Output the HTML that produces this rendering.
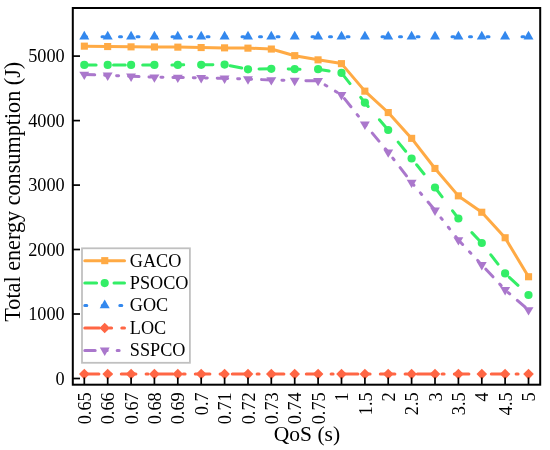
<!DOCTYPE html>
<html><head><meta charset="utf-8"><title>Total energy consumption vs QoS</title>
<style>html,body{margin:0;padding:0;background:#fff;overflow:hidden}svg{display:block}</style></head>
<body>
<svg width="550" height="450" viewBox="0 0 550 450" font-family="'Liberation Serif', 'Times New Roman', serif">
<rect width="550" height="450" fill="#fff"/>
<path d="M84.3 46.2 L107.7 46.5 L131.1 46.8 L154.4 47.0 L177.8 47.1 L201.2 47.5 L224.6 47.9 L248.0 48.1 L271.3 49.0 L294.7 55.7 L318.1 59.8 L341.5 63.6 L364.9 91.1 L388.2 112.5 L411.6 138.4 L435.0 168.5 L458.4 195.9 L481.8 212.2 L505.1 237.8 L528.5 276.8" fill="none" stroke="#FFAA44" stroke-width="3.0" stroke-linejoin="round"/>
<rect x="80.8" y="42.6" width="7.1" height="7.1" fill="#FFAA44"/>
<rect x="104.1" y="43.0" width="7.1" height="7.1" fill="#FFAA44"/>
<rect x="127.5" y="43.3" width="7.1" height="7.1" fill="#FFAA44"/>
<rect x="150.9" y="43.4" width="7.1" height="7.1" fill="#FFAA44"/>
<rect x="174.3" y="43.6" width="7.1" height="7.1" fill="#FFAA44"/>
<rect x="197.6" y="44.0" width="7.1" height="7.1" fill="#FFAA44"/>
<rect x="221.0" y="44.3" width="7.1" height="7.1" fill="#FFAA44"/>
<rect x="244.4" y="44.6" width="7.1" height="7.1" fill="#FFAA44"/>
<rect x="267.8" y="45.5" width="7.1" height="7.1" fill="#FFAA44"/>
<rect x="291.2" y="52.1" width="7.1" height="7.1" fill="#FFAA44"/>
<rect x="314.5" y="56.3" width="7.1" height="7.1" fill="#FFAA44"/>
<rect x="337.9" y="60.1" width="7.1" height="7.1" fill="#FFAA44"/>
<rect x="361.3" y="87.6" width="7.1" height="7.1" fill="#FFAA44"/>
<rect x="384.7" y="109.0" width="7.1" height="7.1" fill="#FFAA44"/>
<rect x="408.1" y="134.8" width="7.1" height="7.1" fill="#FFAA44"/>
<rect x="431.4" y="164.9" width="7.1" height="7.1" fill="#FFAA44"/>
<rect x="454.8" y="192.3" width="7.1" height="7.1" fill="#FFAA44"/>
<rect x="478.2" y="208.7" width="7.1" height="7.1" fill="#FFAA44"/>
<rect x="501.6" y="234.2" width="7.1" height="7.1" fill="#FFAA44"/>
<rect x="525.0" y="273.2" width="7.1" height="7.1" fill="#FFAA44"/>
<path d="M84.3 64.9 L107.7 64.9 L131.1 64.9 L154.4 64.9 L177.8 64.9 L201.2 64.8 L224.6 64.6 L248.0 69.3 L271.3 68.8 L294.7 69.2 L318.1 69.2 L341.5 72.9" fill="none" stroke="#33EE66" stroke-width="3.0" stroke-linejoin="round" stroke-dasharray="11.8 17.4" stroke-linecap="round"/>
<path d="M341.5 72.9 L364.9 102.7 L388.2 130.0 L411.6 158.5 L435.0 187.5 L458.4 218.5 L481.8 243.0 L505.1 273.4 L528.5 295.0" fill="none" stroke="#33EE66" stroke-width="3.0" stroke-linejoin="round" stroke-dasharray="11.8 17.4" stroke-dashoffset="-1.9" stroke-linecap="round"/>
<circle cx="84.3" cy="64.9" r="4.1" fill="#33EE66"/>
<circle cx="107.7" cy="64.9" r="4.1" fill="#33EE66"/>
<circle cx="131.1" cy="64.9" r="4.1" fill="#33EE66"/>
<circle cx="154.4" cy="64.9" r="4.1" fill="#33EE66"/>
<circle cx="177.8" cy="64.9" r="4.1" fill="#33EE66"/>
<circle cx="201.2" cy="64.8" r="4.1" fill="#33EE66"/>
<circle cx="224.6" cy="64.6" r="4.1" fill="#33EE66"/>
<circle cx="248.0" cy="69.3" r="4.1" fill="#33EE66"/>
<circle cx="271.3" cy="68.8" r="4.1" fill="#33EE66"/>
<circle cx="294.7" cy="69.2" r="4.1" fill="#33EE66"/>
<circle cx="318.1" cy="69.2" r="4.1" fill="#33EE66"/>
<circle cx="341.5" cy="72.9" r="4.1" fill="#33EE66"/>
<circle cx="364.9" cy="102.7" r="4.1" fill="#33EE66"/>
<circle cx="388.2" cy="130.0" r="4.1" fill="#33EE66"/>
<circle cx="411.6" cy="158.5" r="4.1" fill="#33EE66"/>
<circle cx="435.0" cy="187.5" r="4.1" fill="#33EE66"/>
<circle cx="458.4" cy="218.5" r="4.1" fill="#33EE66"/>
<circle cx="481.8" cy="243.0" r="4.1" fill="#33EE66"/>
<circle cx="505.1" cy="273.4" r="4.1" fill="#33EE66"/>
<circle cx="528.5" cy="295.0" r="4.1" fill="#33EE66"/>
<path d="M84.5 36.8 L107.7 36.8 L131.1 36.8 L154.4 36.8 L177.8 36.8 L201.2 36.8 L224.6 36.8 L248.0 36.8 L271.3 36.8 L294.7 36.8 L318.1 36.8 L341.5 36.8 L364.9 36.8 L388.2 36.8 L411.6 36.8 L435.0 36.8 L458.4 36.8 L481.8 36.8 L505.1 36.8 L528.5 36.8" fill="none" stroke="#3388EE" stroke-width="3.0" stroke-linejoin="round" stroke-dasharray="2 15.5" stroke-linecap="round"/>
<path d="M84.3 30.8 L89.3 39.6 L79.3 39.6 Z" fill="#3388EE"/>
<path d="M107.7 30.8 L112.7 39.6 L102.7 39.6 Z" fill="#3388EE"/>
<path d="M131.1 30.8 L136.1 39.6 L126.1 39.6 Z" fill="#3388EE"/>
<path d="M154.4 30.8 L159.4 39.6 L149.4 39.6 Z" fill="#3388EE"/>
<path d="M177.8 30.8 L182.8 39.6 L172.8 39.6 Z" fill="#3388EE"/>
<path d="M201.2 30.8 L206.2 39.6 L196.2 39.6 Z" fill="#3388EE"/>
<path d="M224.6 30.8 L229.6 39.6 L219.6 39.6 Z" fill="#3388EE"/>
<path d="M248.0 30.8 L253.0 39.6 L243.0 39.6 Z" fill="#3388EE"/>
<path d="M271.3 30.8 L276.3 39.6 L266.3 39.6 Z" fill="#3388EE"/>
<path d="M294.7 30.8 L299.7 39.6 L289.7 39.6 Z" fill="#3388EE"/>
<path d="M318.1 30.8 L323.1 39.6 L313.1 39.6 Z" fill="#3388EE"/>
<path d="M341.5 30.8 L346.5 39.6 L336.5 39.6 Z" fill="#3388EE"/>
<path d="M364.9 30.8 L369.9 39.6 L359.9 39.6 Z" fill="#3388EE"/>
<path d="M388.2 30.8 L393.2 39.6 L383.2 39.6 Z" fill="#3388EE"/>
<path d="M411.6 30.8 L416.6 39.6 L406.6 39.6 Z" fill="#3388EE"/>
<path d="M435.0 30.8 L440.0 39.6 L430.0 39.6 Z" fill="#3388EE"/>
<path d="M458.4 30.8 L463.4 39.6 L453.4 39.6 Z" fill="#3388EE"/>
<path d="M481.8 30.8 L486.8 39.6 L476.8 39.6 Z" fill="#3388EE"/>
<path d="M505.1 30.8 L510.1 39.6 L500.1 39.6 Z" fill="#3388EE"/>
<path d="M528.5 30.8 L533.5 39.6 L523.5 39.6 Z" fill="#3388EE"/>
<path d="M84.3 374.1 L107.7 374.1 L131.1 374.1 L154.4 374.1 L177.8 374.1 L201.2 374.1 L224.6 374.1 L248.0 374.1 L271.3 374.1 L294.7 374.1 L318.1 374.1 L341.5 374.1 L364.9 374.1 L388.2 374.1 L411.6 374.1 L435.0 374.1 L458.4 374.1 L481.8 374.1 L505.1 374.1 L528.5 374.1" fill="none" stroke="#FF6644" stroke-width="3.0" stroke-linejoin="round" stroke-dasharray="14.6 10.2 2 10.2" stroke-linecap="round"/>
<path d="M84.3 368.8 L89.6 374.1 L84.3 379.4 L79.0 374.1 Z" fill="#FF6644"/>
<path d="M107.7 368.8 L113.0 374.1 L107.7 379.4 L102.4 374.1 Z" fill="#FF6644"/>
<path d="M131.1 368.8 L136.4 374.1 L131.1 379.4 L125.8 374.1 Z" fill="#FF6644"/>
<path d="M154.4 368.8 L159.7 374.1 L154.4 379.4 L149.1 374.1 Z" fill="#FF6644"/>
<path d="M177.8 368.8 L183.1 374.1 L177.8 379.4 L172.5 374.1 Z" fill="#FF6644"/>
<path d="M201.2 368.8 L206.5 374.1 L201.2 379.4 L195.9 374.1 Z" fill="#FF6644"/>
<path d="M224.6 368.8 L229.9 374.1 L224.6 379.4 L219.3 374.1 Z" fill="#FF6644"/>
<path d="M248.0 368.8 L253.3 374.1 L248.0 379.4 L242.7 374.1 Z" fill="#FF6644"/>
<path d="M271.3 368.8 L276.6 374.1 L271.3 379.4 L266.0 374.1 Z" fill="#FF6644"/>
<path d="M294.7 368.8 L300.0 374.1 L294.7 379.4 L289.4 374.1 Z" fill="#FF6644"/>
<path d="M318.1 368.8 L323.4 374.1 L318.1 379.4 L312.8 374.1 Z" fill="#FF6644"/>
<path d="M341.5 368.8 L346.8 374.1 L341.5 379.4 L336.2 374.1 Z" fill="#FF6644"/>
<path d="M364.9 368.8 L370.2 374.1 L364.9 379.4 L359.6 374.1 Z" fill="#FF6644"/>
<path d="M388.2 368.8 L393.5 374.1 L388.2 379.4 L382.9 374.1 Z" fill="#FF6644"/>
<path d="M411.6 368.8 L416.9 374.1 L411.6 379.4 L406.3 374.1 Z" fill="#FF6644"/>
<path d="M435.0 368.8 L440.3 374.1 L435.0 379.4 L429.7 374.1 Z" fill="#FF6644"/>
<path d="M458.4 368.8 L463.7 374.1 L458.4 379.4 L453.1 374.1 Z" fill="#FF6644"/>
<path d="M481.8 368.8 L487.1 374.1 L481.8 379.4 L476.5 374.1 Z" fill="#FF6644"/>
<path d="M505.1 368.8 L510.4 374.1 L505.1 379.4 L499.8 374.1 Z" fill="#FF6644"/>
<path d="M528.5 368.8 L533.8 374.1 L528.5 379.4 L523.2 374.1 Z" fill="#FF6644"/>
<path d="M84.3 74.5 L107.7 75.3 L131.1 76.3 L154.4 77.2 L177.8 77.5 L201.2 77.8 L224.6 78.3 L248.0 79.1 L271.3 80.0 L294.7 80.6 L318.1 80.7 L341.5 94.9 L364.9 124.3 L388.2 152.2 L411.6 182.5 L435.0 210.3 L458.4 240.0 L481.8 264.8 L505.1 289.9 L528.5 310.0" fill="none" stroke="#AA77CC" stroke-width="3.0" stroke-linejoin="round" stroke-dasharray="10.4 9.98 2 9.98 2 9.98" stroke-linecap="round"/>
<path d="M84.3 80.1 L89.2 71.7 L79.3 71.7 Z" fill="#AA77CC"/>
<path d="M107.7 80.9 L112.6 72.5 L102.7 72.5 Z" fill="#AA77CC"/>
<path d="M131.1 81.9 L136.0 73.5 L126.1 73.5 Z" fill="#AA77CC"/>
<path d="M154.4 82.8 L159.4 74.4 L149.5 74.4 Z" fill="#AA77CC"/>
<path d="M177.8 83.1 L182.8 74.7 L172.9 74.7 Z" fill="#AA77CC"/>
<path d="M201.2 83.4 L206.1 75.0 L196.2 75.0 Z" fill="#AA77CC"/>
<path d="M224.6 83.9 L229.5 75.5 L219.6 75.5 Z" fill="#AA77CC"/>
<path d="M248.0 84.7 L252.9 76.3 L243.0 76.3 Z" fill="#AA77CC"/>
<path d="M271.3 85.6 L276.3 77.2 L266.4 77.2 Z" fill="#AA77CC"/>
<path d="M294.7 86.2 L299.7 77.8 L289.8 77.8 Z" fill="#AA77CC"/>
<path d="M318.1 86.3 L323.0 77.9 L313.1 77.9 Z" fill="#AA77CC"/>
<path d="M341.5 100.5 L346.4 92.1 L336.5 92.1 Z" fill="#AA77CC"/>
<path d="M364.9 129.9 L369.8 121.5 L359.9 121.5 Z" fill="#AA77CC"/>
<path d="M388.2 157.8 L393.2 149.4 L383.3 149.4 Z" fill="#AA77CC"/>
<path d="M411.6 188.1 L416.6 179.7 L406.7 179.7 Z" fill="#AA77CC"/>
<path d="M435.0 215.9 L439.9 207.5 L430.1 207.5 Z" fill="#AA77CC"/>
<path d="M458.4 245.6 L463.3 237.2 L453.4 237.2 Z" fill="#AA77CC"/>
<path d="M481.8 270.4 L486.7 262.0 L476.8 262.0 Z" fill="#AA77CC"/>
<path d="M505.1 295.5 L510.1 287.1 L500.2 287.1 Z" fill="#AA77CC"/>
<path d="M528.5 315.6 L533.5 307.2 L523.6 307.2 Z" fill="#AA77CC"/>
<rect x="72.8" y="8.0" width="467.4" height="376.7" fill="none" stroke="#000" stroke-width="2"/>
<line x1="84.3" y1="384.7" x2="84.3" y2="377.5" stroke="#000" stroke-width="1.7"/>
<text transform="translate(90.9 392.3) rotate(-90)" text-anchor="end" font-size="18.3" fill="#000">0.65</text>
<line x1="107.7" y1="384.7" x2="107.7" y2="377.5" stroke="#000" stroke-width="1.7"/>
<text transform="translate(114.3 392.3) rotate(-90)" text-anchor="end" font-size="18.3" fill="#000">0.66</text>
<line x1="131.1" y1="384.7" x2="131.1" y2="377.5" stroke="#000" stroke-width="1.7"/>
<text transform="translate(137.7 392.3) rotate(-90)" text-anchor="end" font-size="18.3" fill="#000">0.67</text>
<line x1="154.4" y1="384.7" x2="154.4" y2="377.5" stroke="#000" stroke-width="1.7"/>
<text transform="translate(161.0 392.3) rotate(-90)" text-anchor="end" font-size="18.3" fill="#000">0.68</text>
<line x1="177.8" y1="384.7" x2="177.8" y2="377.5" stroke="#000" stroke-width="1.7"/>
<text transform="translate(184.4 392.3) rotate(-90)" text-anchor="end" font-size="18.3" fill="#000">0.69</text>
<line x1="201.2" y1="384.7" x2="201.2" y2="377.5" stroke="#000" stroke-width="1.7"/>
<text transform="translate(207.8 392.3) rotate(-90)" text-anchor="end" font-size="18.3" fill="#000">0.7</text>
<line x1="224.6" y1="384.7" x2="224.6" y2="377.5" stroke="#000" stroke-width="1.7"/>
<text transform="translate(231.2 392.3) rotate(-90)" text-anchor="end" font-size="18.3" fill="#000">0.71</text>
<line x1="248.0" y1="384.7" x2="248.0" y2="377.5" stroke="#000" stroke-width="1.7"/>
<text transform="translate(254.6 392.3) rotate(-90)" text-anchor="end" font-size="18.3" fill="#000">0.72</text>
<line x1="271.3" y1="384.7" x2="271.3" y2="377.5" stroke="#000" stroke-width="1.7"/>
<text transform="translate(277.9 392.3) rotate(-90)" text-anchor="end" font-size="18.3" fill="#000">0.73</text>
<line x1="294.7" y1="384.7" x2="294.7" y2="377.5" stroke="#000" stroke-width="1.7"/>
<text transform="translate(301.3 392.3) rotate(-90)" text-anchor="end" font-size="18.3" fill="#000">0.74</text>
<line x1="318.1" y1="384.7" x2="318.1" y2="377.5" stroke="#000" stroke-width="1.7"/>
<text transform="translate(324.7 392.3) rotate(-90)" text-anchor="end" font-size="18.3" fill="#000">0.75</text>
<line x1="341.5" y1="384.7" x2="341.5" y2="377.5" stroke="#000" stroke-width="1.7"/>
<text transform="translate(348.1 392.3) rotate(-90)" text-anchor="end" font-size="18.3" fill="#000">1</text>
<line x1="364.9" y1="384.7" x2="364.9" y2="377.5" stroke="#000" stroke-width="1.7"/>
<text transform="translate(371.5 392.3) rotate(-90)" text-anchor="end" font-size="18.3" fill="#000">1.5</text>
<line x1="388.2" y1="384.7" x2="388.2" y2="377.5" stroke="#000" stroke-width="1.7"/>
<text transform="translate(394.8 392.3) rotate(-90)" text-anchor="end" font-size="18.3" fill="#000">2</text>
<line x1="411.6" y1="384.7" x2="411.6" y2="377.5" stroke="#000" stroke-width="1.7"/>
<text transform="translate(418.2 392.3) rotate(-90)" text-anchor="end" font-size="18.3" fill="#000">2.5</text>
<line x1="435.0" y1="384.7" x2="435.0" y2="377.5" stroke="#000" stroke-width="1.7"/>
<text transform="translate(441.6 392.3) rotate(-90)" text-anchor="end" font-size="18.3" fill="#000">3</text>
<line x1="458.4" y1="384.7" x2="458.4" y2="377.5" stroke="#000" stroke-width="1.7"/>
<text transform="translate(465.0 392.3) rotate(-90)" text-anchor="end" font-size="18.3" fill="#000">3.5</text>
<line x1="481.8" y1="384.7" x2="481.8" y2="377.5" stroke="#000" stroke-width="1.7"/>
<text transform="translate(488.4 392.3) rotate(-90)" text-anchor="end" font-size="18.3" fill="#000">4</text>
<line x1="505.1" y1="384.7" x2="505.1" y2="377.5" stroke="#000" stroke-width="1.7"/>
<text transform="translate(511.7 392.3) rotate(-90)" text-anchor="end" font-size="18.3" fill="#000">4.5</text>
<line x1="528.5" y1="384.7" x2="528.5" y2="377.5" stroke="#000" stroke-width="1.7"/>
<text transform="translate(535.1 392.3) rotate(-90)" text-anchor="end" font-size="18.3" fill="#000">5</text>
<line x1="72.8" y1="378.5" x2="80.0" y2="378.5" stroke="#000" stroke-width="1.7"/>
<text x="64.7" y="384.7" text-anchor="end" font-size="18.3" fill="#000">0</text>
<line x1="72.8" y1="314.0" x2="80.0" y2="314.0" stroke="#000" stroke-width="1.7"/>
<text x="64.7" y="320.2" text-anchor="end" font-size="18.3" fill="#000">1000</text>
<line x1="72.8" y1="249.5" x2="80.0" y2="249.5" stroke="#000" stroke-width="1.7"/>
<text x="64.7" y="255.7" text-anchor="end" font-size="18.3" fill="#000">2000</text>
<line x1="72.8" y1="185.1" x2="80.0" y2="185.1" stroke="#000" stroke-width="1.7"/>
<text x="64.7" y="191.3" text-anchor="end" font-size="18.3" fill="#000">3000</text>
<line x1="72.8" y1="120.6" x2="80.0" y2="120.6" stroke="#000" stroke-width="1.7"/>
<text x="64.7" y="126.8" text-anchor="end" font-size="18.3" fill="#000">4000</text>
<line x1="72.8" y1="56.1" x2="80.0" y2="56.1" stroke="#000" stroke-width="1.7"/>
<text x="64.7" y="62.3" text-anchor="end" font-size="18.3" fill="#000">5000</text>
<text transform="translate(20.0 191.7) rotate(-90)" text-anchor="middle" font-size="22.2" fill="#000">Total energy consumption (J)</text>
<text x="307.0" y="441.0" text-anchor="middle" font-size="21.5" fill="#000">QoS (s)</text>
<rect x="82.0" y="248.3" width="107.9" height="114.5" fill="#fff" stroke="#c0c0c0" stroke-width="1.8"/>
<path d="M84.8 260.7 L124.5 260.7" fill="none" stroke="#FFAA44" stroke-width="3.0" stroke-linecap="round"/>
<rect x="101.2" y="257.1" width="7.1" height="7.1" fill="#FFAA44"/>
<text x="129.8" y="266.6" font-size="18.2" fill="#000">GACO</text>
<path d="M84.8 283.1 L124.5 283.1" fill="none" stroke="#33EE66" stroke-width="3.0" stroke-dasharray="11.8 17.4" stroke-linecap="round"/>
<circle cx="104.7" cy="283.1" r="4.1" fill="#33EE66"/>
<text x="129.8" y="289.0" font-size="18.2" fill="#000">PSOCO</text>
<path d="M84.8 305.5 L124.5 305.5" fill="none" stroke="#3388EE" stroke-width="3.0" stroke-dasharray="2 15.5" stroke-linecap="round"/>
<path d="M104.7 299.5 L109.7 308.3 L99.7 308.3 Z" fill="#3388EE"/>
<text x="129.8" y="311.4" font-size="18.2" fill="#000">GOC</text>
<path d="M84.8 328.0 L124.5 328.0" fill="none" stroke="#FF6644" stroke-width="3.0" stroke-dasharray="14.6 10.2 2 10.2" stroke-linecap="round"/>
<path d="M104.7 322.7 L110.0 328.0 L104.7 333.3 L99.4 328.0 Z" fill="#FF6644"/>
<text x="129.8" y="333.9" font-size="18.2" fill="#000">LOC</text>
<path d="M84.8 350.4 L124.5 350.4" fill="none" stroke="#AA77CC" stroke-width="3.0" stroke-dasharray="10.4 9.98 2 9.98 2 9.98" stroke-linecap="round"/>
<path d="M104.7 356.0 L109.7 347.6 L99.8 347.6 Z" fill="#AA77CC"/>
<text x="129.8" y="356.3" font-size="18.2" fill="#000">SSPCO</text>
</svg>
</body></html>
